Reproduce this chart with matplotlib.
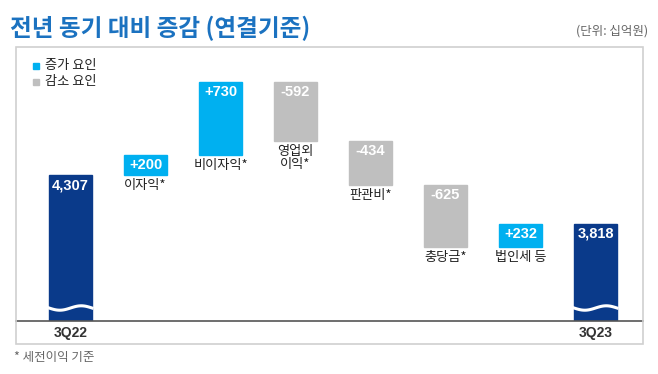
import matplotlib.pyplot as plt
import numpy as np
from matplotlib.patches import Rectangle

plt.rcParams["font.family"] = ["Noto Sans CJK KR", "DejaVu Sans"]

# data (십억원)
categories = ["3Q22", "이자익*", "비이자익*", "영업외\n이익*", "판관비*", "충당금*", "법인세 등", "3Q23"]
changes = [4307, 200, 730, -592, -434, -625, 232, 3818]
value_labels = ["4,307", "+200", "+730", "-592", "-434", "-625", "+232", "3,818"]
kinds = ["total", "up", "up", "down", "down", "down", "up", "total"]

NAVY = "#0A3A8A"
UP = "#00B0F0"
DOWN = "#BFBFBF"
colors = {"total": NAVY, "up": UP, "down": DOWN}

base = 2847
top = 5587

fig = plt.figure(figsize=(6.58, 3.74), dpi=100)
W, H = 658, 374
ax = fig.add_axes([16 / W, (H - 321) / H, 627 / W, (321 - 47) / H])

# outer frame
fig.patches.append(Rectangle((16 / W, (H - 344) / H), 627 / W, (344 - 47) / H,
                             transform=fig.transFigure, fill=False,
                             edgecolor="#D0D0D0", lw=1.2))

width = 0.573
level = 0
for i, (cat, ch, lab, kind) in enumerate(zip(categories, changes, value_labels, kinds)):
    if kind == "total":
        lo, hi = base, ch
        level = ch
    else:
        lo, hi = sorted([level, level + ch])
        level = level + ch
    ax.bar(i, hi - lo, bottom=lo, width=width, color=colors[kind],
           edgecolor=colors[kind], zorder=2)
    ax.text(i, hi - 30, lab, ha="center", va="top", color="white",
            fontsize=10.5, fontweight="bold", family=["Liberation Sans", "DejaVu Sans"], zorder=3)
    if kind == "total":
        # wave break
        xs = np.linspace(i - width / 2, i + width / 2, 50)
        ys = base + 130 + 22 * np.sin((xs - (i - width / 2)) / width * 2 * np.pi + np.pi)
        ax.plot(xs, ys, color="white", lw=2.2, zorder=3)
        ax.text(i, base - 120, cat, ha="center", va="center", fontsize=10,
                fontweight="bold", color="#333333",
                family=["Liberation Sans", "DejaVu Sans"])
    else:
        ax.text(i, lo - 40, cat, ha="center", va="top", fontsize=9.5,
                color="#222222", linespacing=1.0)

ax.set_xlim(-0.727, 7.633)
ax.set_ylim(base, top)
ax.axhline(base, color="#555555", lw=1.2, zorder=4, clip_on=False)
for s in ax.spines.values():
    s.set_visible(False)
ax.set_xticks([])
ax.set_yticks([])

# legend
for k, (lab, c) in enumerate([("증가 요인", UP), ("감소 요인", DOWN)]):
    yy = 1 - (66 + 16 * k) / H
    fig.patches.append(Rectangle((33 / W, yy - 3 / H), 6 / W, 6 / H,
                                 transform=fig.transFigure, color=c))
    fig.text(45 / W, yy, lab, fontsize=9.5, va="center", color="#222222")

fig.text(10 / W, 1 - 28 / H, "전년 동기 대비 증감 (연결기준)", fontsize=17,
         fontweight="bold", color="#1B72C0", va="center")
fig.text(648 / W, 1 - 31 / H, "(단위: 십억원)", fontsize=9, color="#666666",
         va="center", ha="right")
fig.text(14 / W, 1 - 357 / H, "* 세전이익 기준", fontsize=9, color="#666666", va="center")

fig.savefig("out.png", dpi=100)
